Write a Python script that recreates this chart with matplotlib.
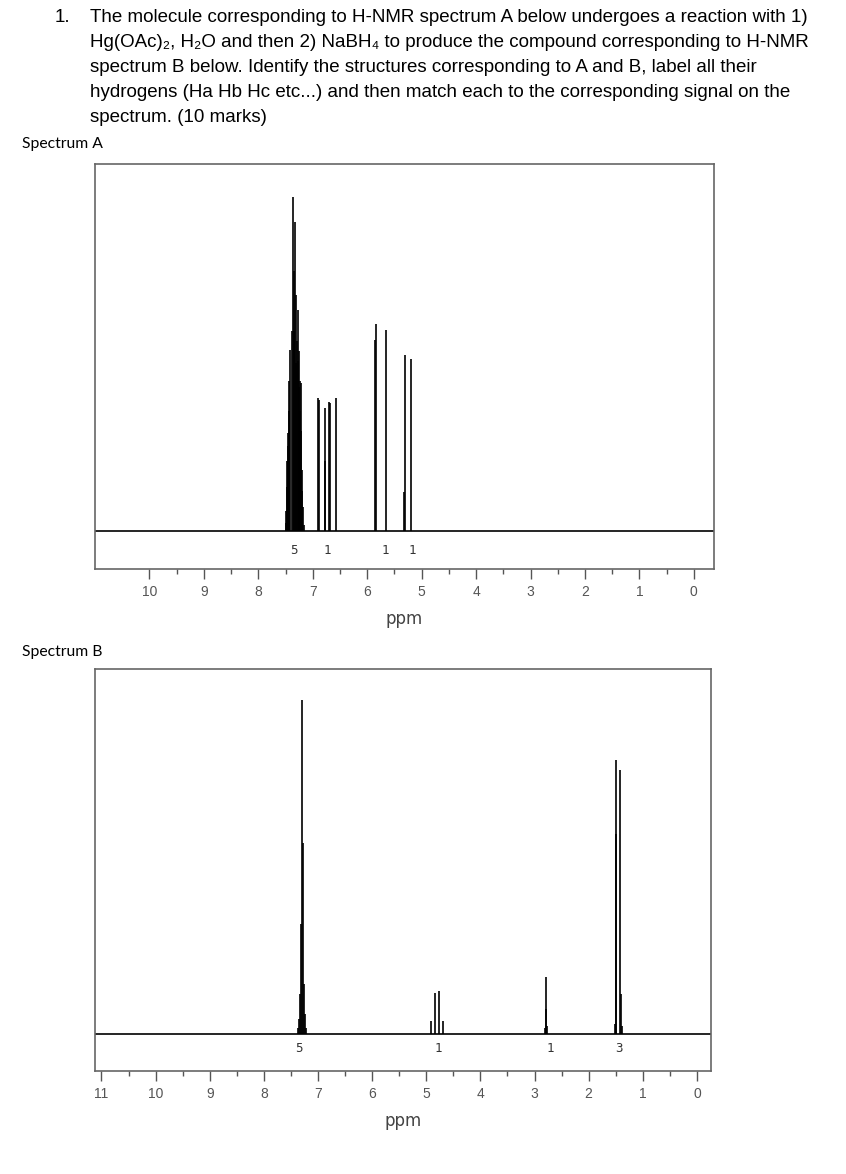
import matplotlib
matplotlib.use('Agg')
import matplotlib.pyplot as plt

plt.rcParams['font.family'] = ['Liberation Sans', 'DejaVu Sans']

question = [
    "The molecule corresponding to H-NMR spectrum A below undergoes a reaction with 1)",
    "Hg(OAc)\u2082, H\u2082O and then 2) NaBH\u2084 to produce the compound corresponding to H-NMR",
    "spectrum B below. Identify the structures corresponding to A and B, label all their",
    "hydrogens (Ha Hb Hc etc...) and then match each to the corresponding signal on the",
    "spectrum. (10 marks)",
]

# spectrum A: peak positions (ppm) and heights (arbitrary units)
a_shift = [7.50, 7.49, 7.48, 7.47, 7.46, 7.45, 7.44, 7.43, 7.41, 7.39, 7.37, 7.35,
           7.34, 7.33, 7.31, 7.30, 7.29, 7.28, 7.27, 7.26, 7.25, 7.24, 7.23, 7.22,
           7.21, 7.20, 7.19, 7.18, 7.17,
           6.90, 6.88, 6.78, 6.77, 6.70, 6.68, 6.57,
           5.85, 5.84, 5.65, 5.32, 5.31, 5.19]
a_height = [8, 20, 44, 70, 85, 98, 120, 150, 181, 200, 334, 260,
            200, 309, 236, 168, 190, 170, 221, 180, 144, 150, 120, 148,
            100, 61, 40, 24, 6,
            133, 131, 123, 70, 129, 128, 133,
            191, 207, 201, 39, 176, 172]
a_int_pos = [7.35, 6.74, 5.67, 5.18]
a_int_lab = ['5', '1', '1', '1']

# spectrum B
b_shift = [7.37, 7.35, 7.33, 7.31, 7.30, 7.28, 7.26, 7.24, 7.22,
           4.91, 4.84, 4.76, 4.69,
           2.80, 2.79, 2.78, 2.77,
           1.52, 1.50, 1.49, 1.42, 1.41, 1.39]
b_height = [6, 15, 40, 110, 334, 191, 50, 20, 6,
            13, 41, 43, 13,
            6, 25, 57, 8,
            10, 274, 200, 264, 40, 8]
b_int_pos = [7.35, 4.77, 2.71, 1.44]
b_int_lab = ['5', '1', '1', '3']

fig = plt.figure(figsize=(8.46, 11.74), dpi=100)

# question text
fig.text(55 / 846, 1 - 17 / 1174, "1.", fontsize=13.5, va='center', ha='left')
for i, line in enumerate(question):
    fig.text(90 / 846, 1 - (17 + i * 25.2) / 1174, line, fontsize=13.5,
             va='center', ha='left')

fig.text(22 / 846, 1 - 144 / 1174, "Spectrum A", fontsize=11.3, family=['Lato', 'DejaVu Sans'],
         va='center', ha='left')
fig.text(22 / 846, 1 - 652 / 1174, "Spectrum B", fontsize=11.3, family=['Lato', 'DejaVu Sans'],
         va='center', ha='left')


def draw_spectrum(ax, shifts, heights, int_pos, int_lab, xlim, ylim, int_y, minor):
    ax.axhline(0, color='black', lw=1.2)
    ax.vlines(shifts, 0, heights, color='black', lw=1.2)
    for p, lab in zip(int_pos, int_lab):
        ax.text(p, int_y, lab, ha='center', va='center', fontsize=9,
                family='DejaVu Sans Mono', color='#333333')
    ax.set_xlim(xlim)
    ax.set_ylim(ylim)
    ax.set_yticks([])
    ax.set_xticks(range(0, 11 + (1 if xlim[0] > 11 else 0)))
    ax.set_xticks(minor, minor=True)
    ax.tick_params(axis='x', which='major', direction='out', length=7.5, width=1,
                   colors='#555555', labelsize=10, pad=4)
    ax.tick_params(axis='x', which='minor', direction='out', length=3.8, width=1,
                   color='#555555')
    for s in ax.spines.values():
        s.set_color('#666666')
        s.set_linewidth(1.2)
    ax.set_xlabel('ppm', fontsize=12, color='#444444', family='DejaVu Sans', labelpad=8)


axA = fig.add_axes([95 / 846, 1 - 569 / 1174, 619 / 846, 405 / 1174])
draw_spectrum(axA, a_shift, a_height, a_int_pos, a_int_lab,
              (11.0, -0.37), (-38, 367), -19, [k + 0.5 for k in range(10)])

axB = fig.add_axes([95 / 846, 1 - 1071 / 1174, 616 / 846, 402 / 1174])
draw_spectrum(axB, b_shift, b_height, b_int_pos, b_int_lab,
              (11.12, -0.26), (-37, 365), -14, [k + 0.5 for k in range(11)])

fig.savefig('out.png', dpi=100)
